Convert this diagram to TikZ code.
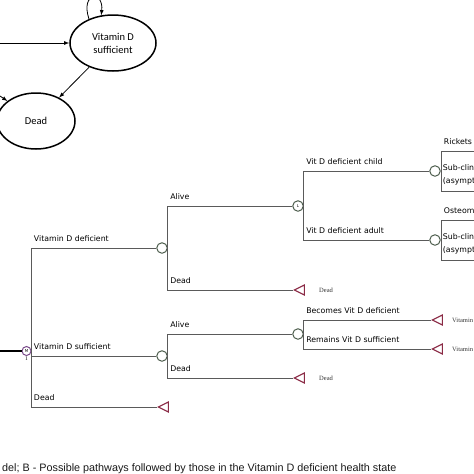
\documentclass[tikz,border=0pt]{standalone}
\usepackage{fontspec}
\usetikzlibrary{shapes.geometric,positioning}
\newfontfamily\treefont{DejaVu Sans}
\newfontfamily\statefont{Carlito}
\newfontfamily\capfont{Liberation Sans}
\newfontfamily\termfont{Liberation Serif}
\definecolor{branchgray}{HTML}{5A5A5A}
\definecolor{chancegreen}{HTML}{4F5F4F}
\definecolor{termred}{HTML}{8A2A45}
\definecolor{markovpurple}{HTML}{7A4A8A}
\tikzset{
	state/.style={ellipse, draw, line width=1.5pt, inner sep=0pt, align=center, font=\statefont\fontsize{10.5}{13}\selectfont},
	branch/.style={draw=branchgray, line width=1pt},
	chance/.style={circle, draw=chancegreen, fill=white, line width=1pt, minimum size=10.5pt, inner sep=0pt, font=\treefont\fontsize{4}{4}\selectfont},
	term/.style={isosceles triangle, shape border rotate=180, isosceles triangle stretches, draw=termred, line width=1.1pt, minimum width=10pt, minimum height=10pt, inner sep=0pt, anchor=apex},
	termtext/.style={font=\termfont\fontsize{6.5}{7}\selectfont, text=black!80, inner sep=1pt},
	blabel/.style={font=\treefont\fontsize{7.8}{9}\selectfont, anchor=base west, inner sep=0pt, xshift=2pt, yshift=7pt},
	outcome/.style={rectangle, draw=branchgray, line width=0.8pt, minimum height=40pt, minimum width=74pt, anchor=west},
	boxtext/.style={font=\treefont\fontsize{7.8}{13}\selectfont, align=left, inner sep=0pt, anchor=west},
	boxtitle/.style={font=\treefont\fontsize{7.8}{9}\selectfont, inner sep=0pt},
}
\begin{document}
\begin{tikzpicture}[x=1pt, y=-1pt]
	\useasboundingbox (0,0) rectangle (474,474);
	\clip (0,0) rectangle (474,474);
	% state diagram (part)
	\node[state, minimum width=86pt, minimum height=56pt] (suff) at (113,43) {Vitamin D\\sufficient};
	\node[state, minimum width=78pt, minimum height=56pt] (dead) at (36,121) {Dead};
	\coordinate (insuff) at (-6,43);
	\coordinate (indead) at (-12,88);
	\draw[-latex, line width=0.8pt] (insuff) -- (suff.west);
	\draw[-latex, line width=0.8pt] (indead) -- (dead.145);
	\draw[-latex, line width=0.8pt] (suff) -- (dead);
	\draw[-latex, line width=0.8pt] (suff.135) .. controls (80,-8) and (104,-10) .. (suff.113);
	% decision tree
	\coordinate (root) at (-4,351);
	\node[chance, draw=markovpurple, minimum size=9pt, label={[font=\termfont\fontsize{5.5}{6}\selectfont, inner sep=0.5pt]below:1}] (M) at (26.5,351) {M};
	\node[chance] (def) at (162,248) {};
	\node[chance] (suf) at (162,356) {};
	\node[term] (mdead) at (157,407) {};
	\node[chance] (L) at (298,206) {L};
	\node[term, label={[termtext, label distance=13pt]right:Dead}] (defdead) at (293,290) {};
	\node[chance] (child) at (435,171) {};
	\node[chance] (adult) at (435,240) {};
	\node[outcome] (rick) at (child.east) {};
	\node[outcome] (osteo) at (adult.east) {};
	\node[boxtext, right=2pt of rick.west, yshift=-4pt] (ricktxt) {Sub-clin\\(asympt};
	\node[boxtext, right=2pt of osteo.west, yshift=-4pt] (osteotxt) {Sub-clin\\(asympt};
	\node[boxtitle, above right=6pt and 3pt of rick.north west] (ricklbl) {Rickets};
	\node[boxtitle, above right=6pt and 3pt of osteo.north west] (osteolbl) {Osteom};
	\node[chance] (alive) at (298,334) {};
	\node[term, label={[termtext, label distance=13pt]right:Dead}] (sufdead) at (293,378) {};
	\node[term, label={[termtext, label distance=8pt]right:Vitamin}] (becomes) at (431,320) {};
	\node[term, label={[termtext, label distance=8pt]right:Vitamin}] (remains) at (431,349) {};

	\draw[line width=1.8pt] (root) -- (M.west);
	\draw[branch] (M.east) |- node[blabel, pos=0.5]{Vitamin D deficient} (def.west);
	\draw[branch] (M.east) |- node[blabel, pos=0.5]{Vitamin D sufficient} (suf.west);
	\draw[branch] (M.east) |- node[blabel, pos=0.5]{Dead} (mdead.apex);
	\draw[branch] (def.east) |- node[blabel, pos=0.5]{Alive} (L.west);
	\draw[branch] (def.east) |- node[blabel, pos=0.5]{Dead} (defdead.apex);
	\draw[branch] (L.east) |- node[blabel, pos=0.5]{Vit D deficient child} (child.west);
	\draw[branch] (L.east) |- node[blabel, pos=0.5]{Vit D deficient adult} (adult.west);
	\draw[branch] (suf.east) |- node[blabel, pos=0.5]{Alive} (alive.west);
	\draw[branch] (suf.east) |- node[blabel, pos=0.5]{Dead} (sufdead.apex);
	\draw[branch] (alive.east) |- node[blabel, pos=0.5]{Becomes Vit D deficient} (becomes.apex);
	\draw[branch] (alive.east) |- node[blabel, pos=0.5]{Remains Vit D sufficient} (remains.apex);
	% caption
	\node[font=\capfont\fontsize{10.8}{12}\selectfont, anchor=base west, inner sep=0pt, text=black!90] (capt) at (2,471) {del; B - Possible pathways followed by those in the Vitamin D deficient health state};
\end{tikzpicture}
\end{document}
